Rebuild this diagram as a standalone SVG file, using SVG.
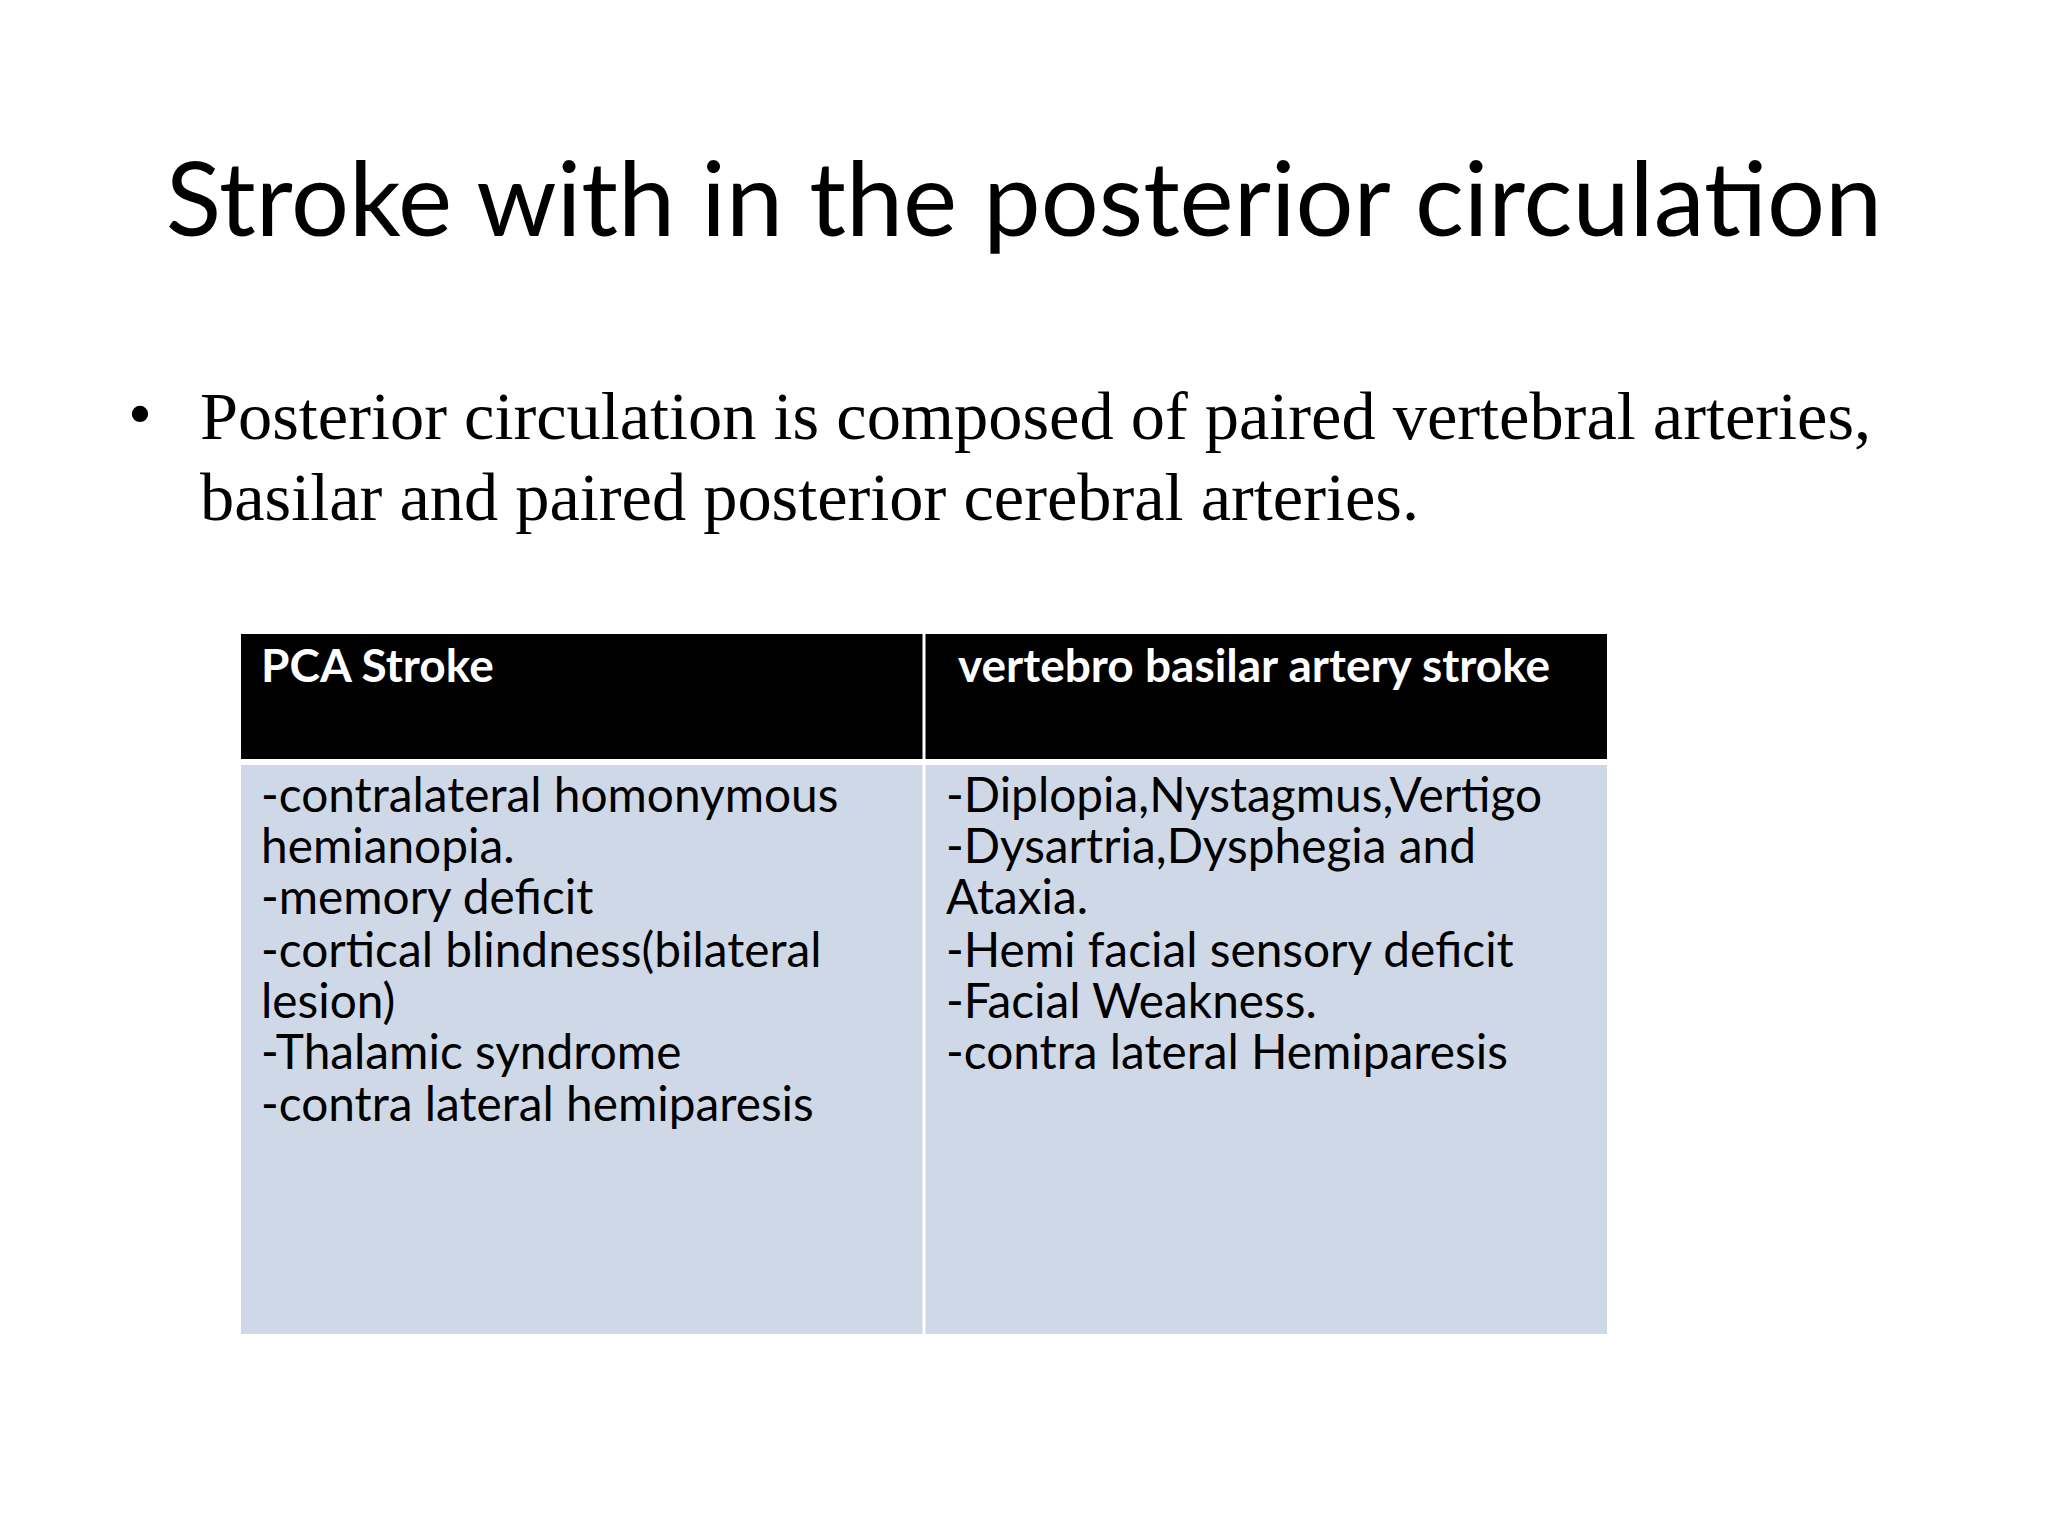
<svg xmlns="http://www.w3.org/2000/svg" width="2048" height="1536" viewBox="0 0 2048 1536">
<style>
.t{font-family:Lato,"Open Sans",sans-serif;font-size:47.8px;fill:#000}
.h{font-family:Lato,"Open Sans",sans-serif;font-size:46px;font-weight:bold;fill:#fff}
.s{font-family:"Liberation Serif",serif;font-size:68.4px;fill:#000}
</style>
<rect width="2048" height="1536" fill="#fff"/>
<g id="title"><text x="1024" y="236" text-anchor="middle" font-family="Lato,'Open Sans',sans-serif" font-size="102.4" fill="#000">Stroke with in the posterior circulation</text></g>
<g id="bullet">
<text x="128" y="436" class="s">•</text>
<text x="200" y="439" class="s">Posterior circulation is composed of paired vertebral arteries,</text>
<text x="200" y="520" class="s">basilar and paired posterior cerebral arteries.</text>
</g>
<g id="table">
<rect x="241" y="634" width="1366" height="700" fill="#cfd8e7"/>
<rect x="241" y="634" width="1366" height="125" fill="#000"/>
<line x1="241" y1="762" x2="1607" y2="762" stroke="#fff" stroke-width="6"/>
<line x1="924" y1="634" x2="924" y2="1334" stroke="#fff" stroke-width="3"/>
<text x="261" y="682" class="h">PCA Stroke</text>
<text x="958" y="682" class="h">vertebro basilar artery stroke</text>
<text x="261" y="812" class="t">-contralateral homonymous</text>
<text x="261" y="863" class="t">hemianopia.</text>
<text x="261" y="914" class="t">-memory deficit</text>
<text x="261" y="967" class="t">-cortical blindness(bilateral</text>
<text x="261" y="1018" class="t">lesion)</text>
<text x="261" y="1069" class="t">-Thalamic syndrome</text>
<text x="261" y="1121" class="t">-contra lateral hemiparesis</text>
<text x="946" y="812" class="t">-Diplopia,Nystagmus,Vertigo</text>
<text x="946" y="863" class="t">-Dysartria,Dysphegia and</text>
<text x="946" y="914" class="t">Ataxia.</text>
<text x="946" y="967" class="t">-Hemi facial sensory deficit</text>
<text x="946" y="1018" class="t">-Facial Weakness.</text>
<text x="946" y="1069" class="t">-contra lateral Hemiparesis</text>
</g>
</svg>
